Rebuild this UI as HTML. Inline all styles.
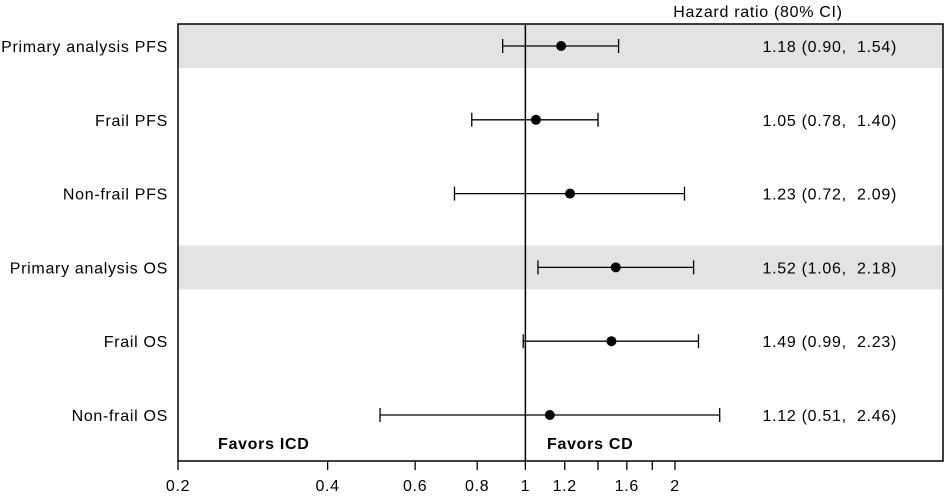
<!DOCTYPE html>
<html><head><meta charset="utf-8"><style>
body{margin:0;background:#fff;}
text{font-family:"Liberation Sans",Arial,sans-serif;letter-spacing:0.7px;white-space:pre;}
</style></head><body>
<svg id="chart" width="945" height="497" xmlns="http://www.w3.org/2000/svg">
<g id="g"></g>
</svg>
<script>
const labels=["Primary analysis PFS","Frail PFS","Non-frail PFS","Primary analysis OS","Frail OS","Non-frail OS"];
const hr=[1.18,1.05,1.23,1.52,1.49,1.12];
const lo=[0.90,0.78,0.72,1.06,0.99,0.51];
const hi=[1.54,1.40,2.09,2.18,2.23,2.46];
const shaded=[true,false,false,true,false,false];
const ticks=[0.2,0.4,0.6,0.8,1,1.2,1.4,1.6,1.8,2];
const tickLabels=["0.2","0.4","0.6","0.8","1","1.2","","1.6","","2"];
const NS="http://www.w3.org/2000/svg";
const g=document.getElementById('g');
const L=178,R=943,T=24,B=461;
const x=v=>L+Math.log10(v/0.2)*497;
const y=i=>46+i*73.8;
function mk(t,a,p){const e=document.createElementNS(NS,t);for(const k in a)e.setAttribute(k,a[k]);(p||g).appendChild(e);return e;}
labels.forEach((l,i)=>{
 if(shaded[i]){const r=mk('rect',{x:L,y:y(i)-22,width:R-L,height:44,fill:'#e3e3e3'});
 
 }
});
mk('rect',{x:L,y:T,width:R-L,height:B-T,fill:'none',stroke:'#000','stroke-width':1.5});
const ref=mk('line',{x1:x(1),x2:x(1),y1:T,y2:B,stroke:'#000','stroke-width':1.5});


labels.forEach((l,i)=>{
 const yy=y(i);
 const t=mk('text',{x:168,y:yy+6,'text-anchor':'end','font-size':16,fill:'#000'});t.textContent=l;
 
 
 const ln=mk('path',{d:`M${x(lo[i])},${yy}H${x(hi[i])}M${x(lo[i])},${yy-7}V${yy+7}M${x(hi[i])},${yy-7}V${yy+7}`,stroke:'#000','stroke-width':1.3,fill:'none'});
 
 
 const c=mk('circle',{cx:x(hr[i]),cy:yy,r:5,fill:'#000'});
 
 
 const v=mk('text',{x:897,y:yy+6,'text-anchor':'end','font-size':16,fill:'#000'});
 v.textContent=hr[i].toFixed(2)+' ('+lo[i].toFixed(2)+',  '+hi[i].toFixed(2)+')';
 
 
});
ticks.forEach((tv,i)=>{
 const tk=mk('line',{x1:x(tv),x2:x(tv),y1:B,y2:B+9,stroke:'#000','stroke-width':1.3});
 
 
 if(tickLabels[i]){const t=mk('text',{x:x(tv),y:491,'text-anchor':'middle','font-size':16});t.textContent=tickLabels[i];
 
 }
});
const h=mk('text',{x:758,y:17,'text-anchor':'middle','font-size':16});h.textContent='Hazard ratio (80% CI)';


const f1=mk('text',{x:218,y:449,'font-size':16,'font-weight':'bold'});f1.textContent='Favors ICD';


const f2=mk('text',{x:547,y:449,'font-size':16,'font-weight':'bold'});f2.textContent='Favors CD';


</script>
</body></html>
